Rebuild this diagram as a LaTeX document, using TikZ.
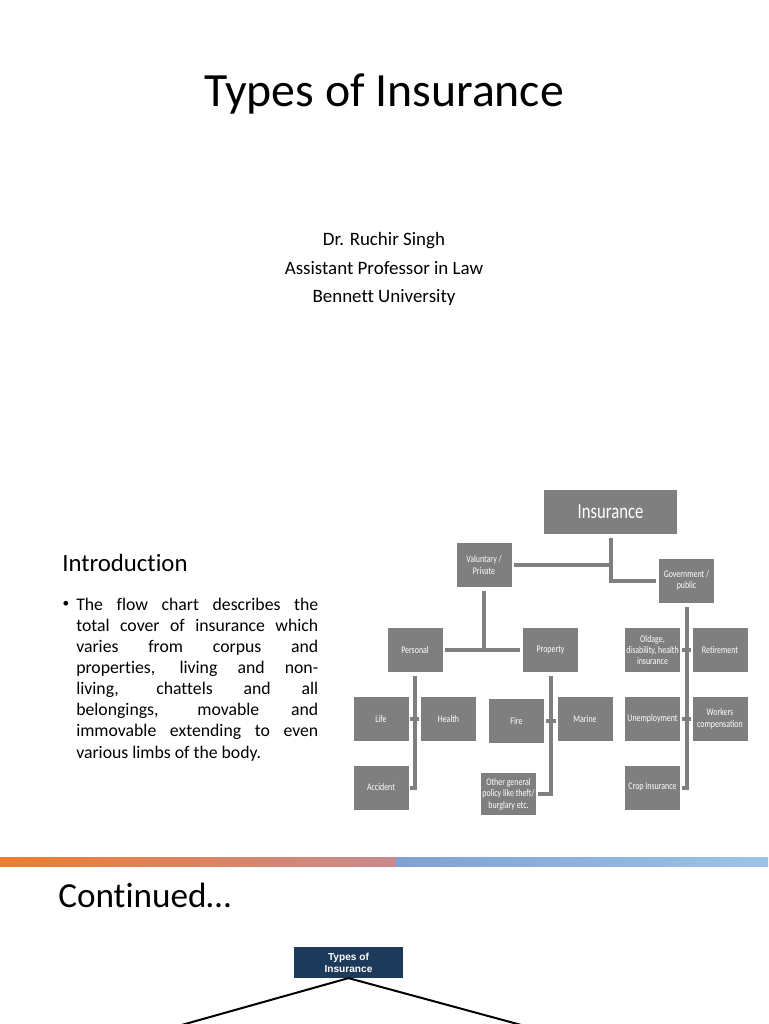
\documentclass[tikz,border=0pt]{standalone}
\usepackage{fontspec}
\setmainfont{Carlito}[Ligatures=NoCommon]
\newfontfamily\boxfont{Carlito}[FakeStretch=0.78, Ligatures=NoCommon]
\newfontfamily\arialfont{Liberation Sans}
\usetikzlibrary{positioning}
\definecolor{boxgray}{HTML}{7F7F7F}
\definecolor{navybox}{HTML}{1E3A5A}
\definecolor{barorange}{HTML}{ED7D31}
\definecolor{barpink}{HTML}{C98A90}
\definecolor{barblue}{HTML}{7FA2D2}
\definecolor{barlight}{HTML}{9DC3E6}
\tikzset{
  gbox/.style={fill=boxgray, text=white, align=center, inner sep=1pt,
    minimum width=41.25pt, minimum height=33pt, font=\boxfont\fontsize{7.6}{8.6}\selectfont},
  conn/.style={draw=boxgray, line width=3pt},
  navy/.style={fill=navybox, text=white, align=center, inner sep=1pt,
    minimum width=82pt, minimum height=23pt, font=\arialfont\bfseries\fontsize{7.6}{9}\selectfont}
}
\begin{document}
\begin{tikzpicture}[x=0.75pt, y=-0.75pt]
  \useasboundingbox[fill=white] (0,0) rectangle (768,1024);
  % first slide
  \node[anchor=base, font=\fontsize{35.8}{40}\selectfont] (title) at (384,106) {Types of Insurance};
  \node[anchor=base, font=\fontsize{14.2}{16}\selectfont] (name) at (384,245) {Dr. Ruchir Singh};
  \node[anchor=base, font=\fontsize{14.2}{16}\selectfont] (post) at (384,274) {Assistant Professor in Law};
  \node[anchor=base, font=\fontsize{14.2}{16}\selectfont] (uni) at (384,302) {Bennett University};
  \node[anchor=base west, inner sep=0pt, font=\fontsize{18.6}{21}\selectfont] (intro) at (62,571) {Introduction};
  \node[inner sep=0pt, font=\fontsize{10}{10}\selectfont] (dot) at (66,604) {•};
  \node[anchor=north west, inner sep=0pt, text width=181.5pt, align=justify,
    font=\fontsize{13.3}{15.8}\selectfont] (para) at (76,598)
    {The flow chart describes the\linebreak
     total cover of insurance which\linebreak
     varies from corpus and\linebreak
     properties, living and non-\linebreak
     living, chattels and all\linebreak
     belongings, movable and\linebreak
     immovable extending to even\linebreak
     various limbs of the body.};

  % flow chart
  \node[gbox, minimum width=100pt, font=\boxfont\fontsize{16}{18}\selectfont] (ins) at (610.5,512) {Insurance};
  \node[gbox] (vol) at (484,565) {Valuntary /\\Private};
  \node[gbox] (gov) at (686.5,580.5) {Government /\\public};
  \node[gbox] (pers) at (415,650) {Personal};
  \node[gbox] (prop) at (550.5,650) {Property};
  \node[gbox] (life) at (381,719) {Life};
  \node[gbox] (health) at (448.5,719) {Health};
  \node[gbox] (acc) at (381,787.5) {Accident};
  \node[gbox] (fire) at (516.5,721) {Fire};
  \node[gbox] (marine) at (585,719) {Marine};
  \node[gbox, minimum height=31.5pt] (other) at (508.5,794) {Other general\\policy like theft/\\burglary etc.};
  \node[gbox] (old) at (652.5,650) {Oldage,\\disability, health\\insurance};
  \node[gbox] (ret) at (720,650) {Retirement};
  \node[gbox] (unemp) at (652.5,719) {Unemployment};
  \node[gbox] (work) at (720,719) {Workers\\compensation};
  \node[gbox] (crop) at (652.5,787.5) {Crop Insurance};

  \draw[conn, shorten <=3pt, shorten >=2pt] (ins.south) -- (ins.south |- gov.west) -- (gov.west);
  \draw[conn, shorten <=2pt] (vol.east) -- (vol.east -| ins.south);
  \draw[conn, shorten <=3pt] (vol.south) -- (vol.south |- pers.east);
  \draw[conn, shorten <=2pt, shorten >=2pt] (pers.east) -- (prop.west);
  \draw[conn, shorten <=3pt, shorten >=1pt] (pers.south) -- (pers.south |- acc.east) -- (acc.east);
  \draw[conn, shorten <=1pt, shorten >=1pt] (life.east) -- (health.west);
  \draw[conn, shorten <=3pt, shorten >=1pt] (prop.south) -- (prop.south |- other.east) -- (other.east);
  \draw[conn, shorten <=1pt, shorten >=1pt] (fire.east) -- (fire.east -| marine.west);
  \draw[conn, shorten <=3pt, shorten >=1pt] (gov.south) -- (gov.south |- crop.east) -- (crop.east);
  \draw[conn, shorten <=1pt, shorten >=1pt] (old.east) -- (ret.west);
  \draw[conn, shorten <=1pt, shorten >=1pt] (unemp.east) -- (work.west);

  % divider bar
  \shade[left color=barorange, right color=barpink] (0,857) rectangle (396,866);
  \shade[left color=barblue, right color=barlight] (396,857) rectangle (768,866);

  % second slide
  \node[anchor=base west, inner sep=0pt, font=\fontsize{26.4}{30}\selectfont] (cont) at (58,907) {Continued…};
  \node[navy] (types) at (348.5,962.5) {Types of\\Insurance};
  \coordinate (lend) at (178,1026);
  \coordinate (rend) at (525,1026);
  \draw[line width=1.5pt] (types.south) -- (lend);
  \draw[line width=1.5pt] (types.south) -- (rend);
\end{tikzpicture}
\end{document}
